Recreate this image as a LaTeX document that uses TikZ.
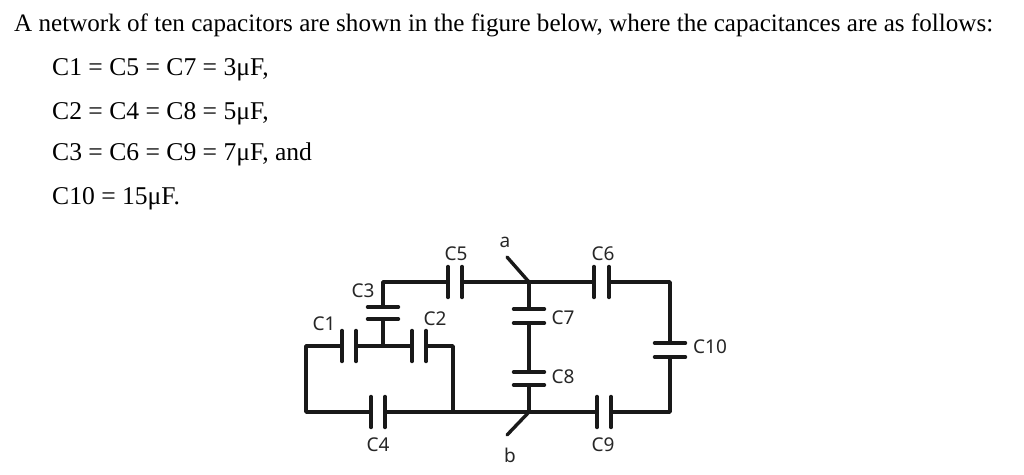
\documentclass[tikz,border=0pt]{standalone}
\usepackage{fontspec}
\setmainfont{Liberation Serif}
\newfontfamily\labelfont{Noto Sans}
\tikzset{
  wire/.style={line width=3.4pt,line cap=round,line join=round,draw=black!90},
  plate/.style={line width=3.4pt,line cap=round,draw=black!90},
  para/.style={anchor=base west,inner sep=0pt,font=\fontsize{25.1}{25.1}\selectfont,text=black},
  formula/.style={para,font=\fontsize{25.6}{25.6}\selectfont},
  lab/.style={inner sep=0pt,font=\labelfont\fontsize{19}{19}\selectfont,text=black!85}
}
\begin{document}
\begin{tikzpicture}[x=1pt,y=-1pt]
\useasboundingbox (0,0) rectangle (1024,474);
\node[para] (t1) at (14,31) {A network of ten capacitors are shown in the figure below, where the capacitances are as follows:};
\node[formula] (t2) at (52,75) {C1 = C5 = C7 = 3μF,};
\node[formula] (t3) at (52,119) {C2 = C4 = C8 = 5μF,};
\node[formula] (t4) at (52,160) {C3 = C6 = C9 = 7μF, and};
\node[formula] (t5) at (52,204) {C10 = 15μF.};
% corners and junctions
\coordinate (tl) at (306,346);
\coordinate (bl) at (306,412);
\coordinate (mid) at (383,346);
\coordinate (tr2) at (453,346);
\coordinate (br2) at (453,412);
\coordinate (top3) at (383,282);
\coordinate (ja) at (529,282);
\coordinate (jb) at (529,412);
\coordinate (tr) at (670,282);
\coordinate (br) at (670,412);
\coordinate (ea) at (507,257);
\coordinate (eb) at (507,435);
% capacitor plate centres: horizontal
\coordinate (c1a) at (342,346); \coordinate (c1b) at (356,346);
\coordinate (c2a) at (412,346); \coordinate (c2b) at (426,346);
\coordinate (c4a) at (371,412); \coordinate (c4b) at (385,412);
\coordinate (c5a) at (448,282); \coordinate (c5b) at (462,282);
\coordinate (c6a) at (594,282); \coordinate (c6b) at (609,282);
\coordinate (c9a) at (597,412); \coordinate (c9b) at (611,412);
% vertical
\coordinate (c3a) at (383,307); \coordinate (c3b) at (383,319);
\coordinate (c7a) at (529,309); \coordinate (c7b) at (529,323);
\coordinate (c8a) at (529,372); \coordinate (c8b) at (529,385);
\coordinate (c10a) at (670,343); \coordinate (c10b) at (670,357);
% plates
\foreach \c in {c1a,c1b,c2a,c2b,c4a,c4b,c5a,c5b,c6a,c6b,c9a,c9b}
  \draw[plate] ([yshift=15.5pt]\c) -- ([yshift=-15.5pt]\c);
\foreach \c in {c3a,c3b,c7a,c7b,c8a,c8b,c10a,c10b}
  \draw[plate] ([xshift=-15.5pt]\c) -- ([xshift=15.5pt]\c);
% wires
\draw[wire] (c1a) -- (tl) -- (bl) -- (c4a);
\draw[wire] (c1b) -- (mid) -- (c2a);
\draw[wire] (mid) -- (c3b);
\draw[wire] (c3a) -- (top3) -- (c5a);
\draw[wire] (c2b) -- (tr2) -- (br2);
\draw[wire] (c4b) -- (br2) -- (jb) -- (c9a);
\draw[wire] (c5b) -- (ja) -- (c6a);
\draw[wire] (c6b) -- (tr) -- (c10a);
\draw[wire] (c10b) -- (br) -- (c9b);
\draw[wire] (ja) -- (c7a);
\draw[wire] (c7b) -- (c8a);
\draw[wire] (c8b) -- (jb);
\draw[wire] (ja) -- (ea);
\draw[wire] (jb) -- (eb);
% labels
\node[lab] (lc1) at (324,324) {C1};
\node[lab] (lc2) at (435,319) {C2};
\node[lab] (lc3) at (363,291) {C3};
\node[lab] (lc4) at (378,445) {C4};
\node[lab] (lc5) at (456,254) {C5};
\node[lab] (lc6) at (603,254) {C6};
\node[lab] (lc7) at (563,318) {C7};
\node[lab] (lc8) at (563,377) {C8};
\node[lab] (lc9) at (603,445) {C9};
\node[lab] (lc10) at (710,347) {C10};
\node[lab] (la) at (505,242) {a};
\node[lab] (lb) at (510,455) {b};
\end{tikzpicture}
\end{document}
